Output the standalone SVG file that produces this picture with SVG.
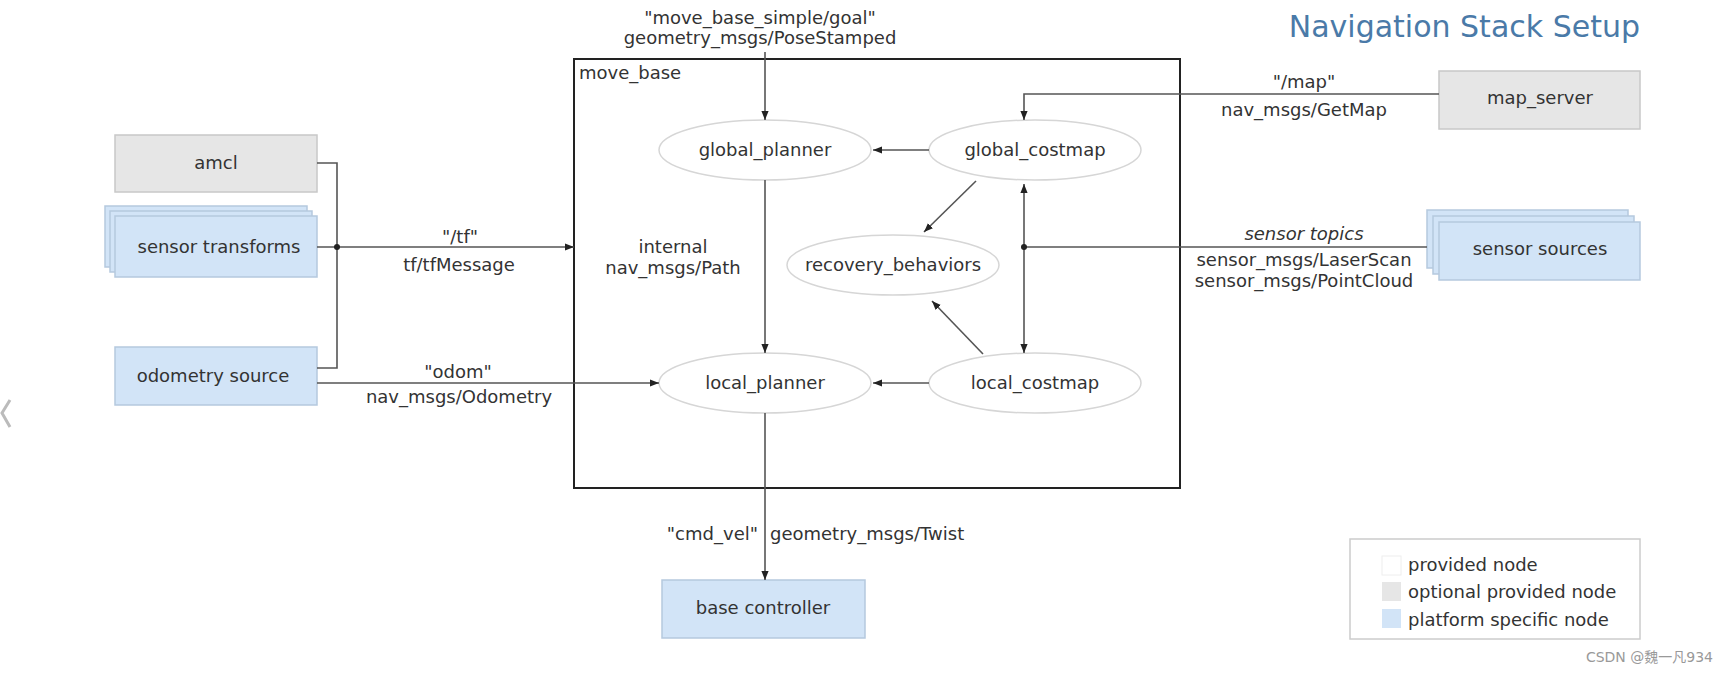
<svg xmlns="http://www.w3.org/2000/svg" width="1718" height="673" viewBox="0 0 1718 673">
<style>
text{font-family:"DejaVu Sans","Liberation Sans",sans-serif;font-size:18px;fill:#333}
.c{text-anchor:middle}
.gray{fill:#e6e6e6;stroke:#c8c8c8;stroke-width:1.5}
.blue{fill:#d2e4f7;stroke:#b5c9de;stroke-width:1.5}
.ell{fill:#fff;stroke:#d6d6d6;stroke-width:1.5}
.ln{fill:none;stroke:#555;stroke-width:1.6}
</style>
<defs>
<marker id="a" viewBox="0 0 10 10" refX="10" refY="5" markerWidth="9" markerHeight="9" markerUnits="userSpaceOnUse" orient="auto-start-reverse"><path d="M0,1 L10,5 L0,9 z" fill="#222"/></marker>
</defs>
<rect width="1718" height="673" fill="#fff"/>
<text x="1640" y="37" text-anchor="end" style="font-size:30px;fill:#4a7aa8">Navigation Stack Setup</text>
<path d="M10,400 L2,413 L10,427" fill="none" stroke="#bbb" stroke-width="3"/>
<g id="move_base"><rect x="574" y="59" width="606" height="429" fill="none" stroke="#222" stroke-width="2"/><text x="579" y="79">move_base</text></g>
<g id="amcl"><rect class="gray" x="115" y="135" width="202" height="57"/><text class="c" x="216" y="169">amcl</text></g>
<g id="sensor_transforms"><rect class="blue" x="105" y="206" width="202" height="61"/><rect class="blue" x="110" y="211" width="202" height="61"/><rect class="blue" x="115" y="216" width="202" height="61"/><text class="c" x="219" y="253">sensor transforms</text></g>
<g id="odometry_source"><rect class="blue" x="115" y="347" width="202" height="58"/><text class="c" x="213" y="382">odometry source</text></g>
<g id="global_planner"><ellipse class="ell" cx="765" cy="150" rx="106" ry="30"/><text class="c" x="765" y="156">global_planner</text></g>
<g id="global_costmap"><ellipse class="ell" cx="1035" cy="150" rx="106" ry="30"/><text class="c" x="1035" y="156">global_costmap</text></g>
<g id="recovery_behaviors"><ellipse class="ell" cx="893" cy="265" rx="106" ry="30"/><text class="c" x="893" y="271">recovery_behaviors</text></g>
<g id="local_planner"><ellipse class="ell" cx="765" cy="383" rx="106" ry="30"/><text class="c" x="765" y="389">local_planner</text></g>
<g id="local_costmap"><ellipse class="ell" cx="1035" cy="383" rx="106" ry="30"/><text class="c" x="1035" y="389">local_costmap</text></g>
<g id="map_server"><rect class="gray" x="1439" y="71" width="201" height="58"/><text class="c" x="1540" y="104">map_server</text></g>
<g id="sensor_sources"><rect class="blue" x="1427" y="210" width="201" height="58"/><rect class="blue" x="1433" y="216" width="201" height="58"/><rect class="blue" x="1439" y="222" width="201" height="58"/><text class="c" x="1540" y="255">sensor sources</text></g>
<g id="base_controller"><rect class="blue" x="662" y="580" width="203" height="58"/><text class="c" x="763" y="614">base controller</text></g>
<g id="connectors">
<path class="ln" d="M317,163 H337 V368 H317"/>
<path class="ln" d="M317,247 H574" marker-end="url(#a)"/>
<circle cx="337" cy="247" r="3" fill="#222"/>
<path class="ln" d="M317,383 H659" marker-end="url(#a)"/>
<path class="ln" d="M765,52 V120" marker-end="url(#a)"/>
<path class="ln" d="M765,180 V353" marker-end="url(#a)"/>
<path class="ln" d="M929,150 H873" marker-end="url(#a)"/>
<path class="ln" d="M929,383 H873" marker-end="url(#a)"/>
<path class="ln" d="M976,181 L924,232" marker-end="url(#a)"/>
<path class="ln" d="M983,354 L932,301" marker-end="url(#a)"/>
<path class="ln" d="M1024,184 V353" marker-start="url(#a)" marker-end="url(#a)"/>
<path class="ln" d="M1024,247 H1427"/>
<circle cx="1024" cy="247" r="3" fill="#222"/>
<path class="ln" d="M1439,94 H1024 V120" marker-end="url(#a)"/>
<path class="ln" d="M765,413 V580" marker-end="url(#a)"/>
</g>
<g id="labels">
<text class="c" x="760" y="24">"move_base_simple/goal"</text>
<text class="c" x="760" y="44">geometry_msgs/PoseStamped</text>
<text class="c" x="460" y="243">"/tf"</text>
<text class="c" x="459" y="271">tf/tfMessage</text>
<text class="c" x="458" y="378">"odom"</text>
<text class="c" x="459" y="403">nav_msgs/Odometry</text>
<text class="c" x="673" y="253">internal</text>
<text class="c" x="673" y="274">nav_msgs/Path</text>
<text class="c" x="1304" y="240" style="font-style:italic">sensor topics</text>
<text class="c" x="1304" y="266">sensor_msgs/LaserScan</text>
<text class="c" x="1304" y="287">sensor_msgs/PointCloud</text>
<text class="c" x="1304" y="88">"/map"</text>
<text class="c" x="1304" y="116">nav_msgs/GetMap</text>
<text x="758" y="540" text-anchor="end">"cmd_vel"</text>
<text x="770" y="540">geometry_msgs/Twist</text>
</g>
<g id="legend">
<rect x="1350" y="539" width="290" height="100" fill="#fff" stroke="#ccc" stroke-width="1.5"/>
<rect x="1382" y="556" width="19" height="19" fill="#fff" stroke="#eee"/>
<rect x="1382" y="582" width="19" height="19" fill="#e6e6e6"/>
<rect x="1382" y="609" width="19" height="19" fill="#d2e4f7"/>
<text x="1408" y="571">provided node</text>
<text x="1408" y="598">optional provided node</text>
<text x="1408" y="626">platform specific node</text>
</g>
<text x="1713" y="662" text-anchor="end" style="font-size:14px;fill:#999;font-family:'DejaVu Sans','Noto Sans CJK SC',sans-serif">CSDN @魏一凡934</text>
</svg>
